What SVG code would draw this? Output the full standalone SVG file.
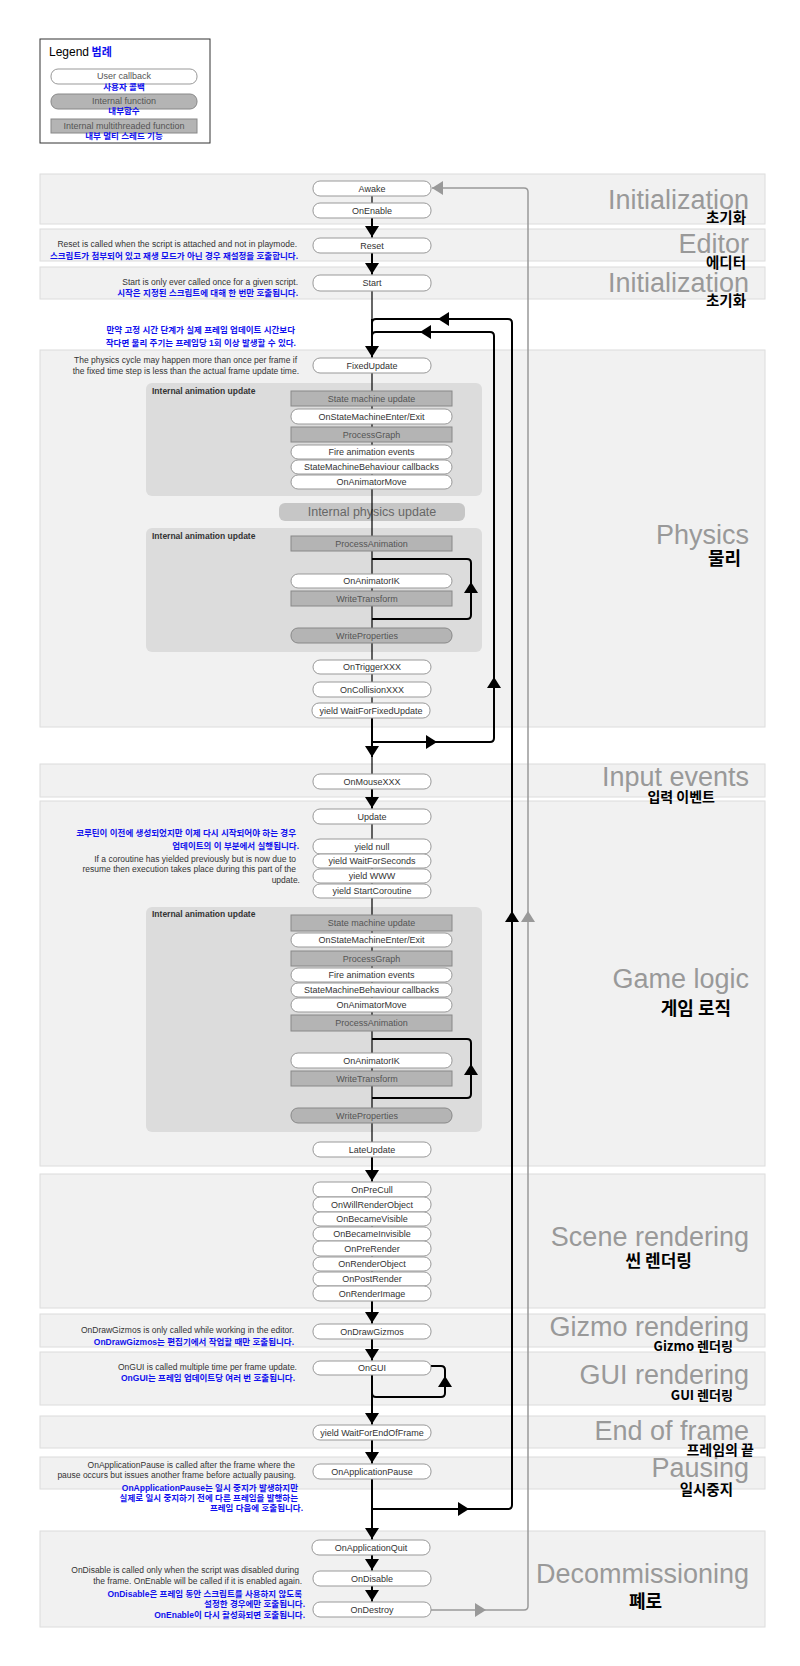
<svg xmlns="http://www.w3.org/2000/svg" xmlns:xlink="http://www.w3.org/1999/xlink" width="800" height="1666" viewBox="0 0 800 1666">
<style>
text{font-family:"Liberation Sans",Arial,sans-serif}
.band{fill:#f1f1f1;stroke:#dcdcdc;stroke-width:1}
.panel{fill:#dcdcdc}
.cb{fill:#fff;stroke:#999;stroke-width:1}
.fn{fill:#b4b4b4;stroke:#888;stroke-width:1}
.mt{fill:#b4b4b4;stroke:#888;stroke-width:1}
.nt{font-size:9px;fill:#333;text-anchor:middle}
.gt{font-size:9px;fill:#555;text-anchor:middle}
.pt{font-size:8.5px;font-weight:bold;fill:#333}
.big{font-size:27px;fill:#999;text-anchor:end}
.ko{font-family:"Noto Sans CJK KR",sans-serif;font-weight:bold;fill:#000}
.en{font-size:8.5px;fill:#333;text-anchor:end}
.bl{font-family:"Liberation Sans","Noto Sans CJK KR",sans-serif;font-size:8.5px;font-weight:bold;fill:#1010ee;text-anchor:end}
.ln{fill:none;stroke:#000;stroke-width:1.2}
.lp{fill:none;stroke:#000;stroke-width:2}
.lg{fill:none;stroke:#999;stroke-width:1.5}
</style>
<defs>
<path id="ar" d="M0,0 L-11,-7 L-11,7 Z"/>
<marker id="mk" markerUnits="userSpaceOnUse" markerWidth="14" markerHeight="14" refX="11" refY="7" orient="auto"><path d="M0,0 L11,7 L0,14 Z" fill="#000"/></marker>
<marker id="mg" markerUnits="userSpaceOnUse" markerWidth="14" markerHeight="14" refX="11" refY="7" orient="auto"><path d="M0,0 L11,7 L0,14 Z" fill="#999"/></marker>
</defs>
<rect width="800" height="1666" fill="#fff"/>

<g id="legend">
<rect x="40" y="39" width="170" height="104" fill="#fff" stroke="#333" stroke-width="1"/>
<text x="49" y="56" font-size="12" fill="#000">Legend<tspan class="ko" fill="#1010ee" font-size="11" style="fill:#1010ee"> 범례</tspan></text>
<rect class="cb" x="51" y="69" width="146" height="15" rx="7"/>
<text class="nt" x="124" y="79" style="fill:#555">User callback</text>
<text class="bl" x="124" y="90" text-anchor="middle" style="text-anchor:middle">사용자 콜백</text>
<rect class="fn" x="51" y="94" width="146" height="15" rx="7"/>
<text class="gt" x="124" y="104">Internal function</text>
<text class="bl" x="124" y="114" style="text-anchor:middle">내부함수</text>
<rect class="mt" x="51" y="119" width="146" height="14"/>
<text class="gt" x="124" y="129">Internal multithreaded function</text>
<text class="bl" x="124" y="139" style="text-anchor:middle">내부 멀티 스레드 기능</text>
</g>

<g id="bands">
<rect class="band" x="40" y="174" width="725" height="50"/>
<rect class="band" x="40" y="229" width="725" height="32"/>
<rect class="band" x="40" y="267" width="725" height="32"/>
<rect class="band" x="40" y="350" width="725" height="377"/>
<rect class="band" x="40" y="764" width="725" height="33"/>
<rect class="band" x="40" y="801" width="725" height="365"/>
<rect class="band" x="40" y="1174" width="725" height="134"/>
<rect class="band" x="40" y="1314" width="725" height="33"/>
<rect class="band" x="40" y="1352" width="725" height="53"/>
<rect class="band" x="40" y="1416" width="725" height="32"/>
<rect class="band" x="40" y="1457" width="725" height="32"/>
<rect class="band" x="40" y="1531" width="725" height="96"/>
<rect class="panel" x="146" y="383" width="336" height="113" rx="6"/>
<rect x="279" y="503" width="186" height="18" rx="6" fill="#c6c6c6"/>
<rect class="panel" x="146" y="528" width="336" height="124" rx="6"/>
<rect class="panel" x="146" y="907" width="336" height="225" rx="6"/>
<text class="pt" x="152" y="394">Internal animation update</text>
<text class="pt" x="152" y="539">Internal animation update</text>
<text class="pt" x="152" y="917">Internal animation update</text>
<text x="372" y="516" font-size="12.5" fill="#666" text-anchor="middle">Internal physics update</text>
</g>

<g id="titles">
<text class="big" x="749" y="209">Initialization</text><text class="ko" x="746" y="223" font-size="14.5" text-anchor="end">초기화</text>
<text class="big" x="749" y="253">Editor</text><text class="ko" x="746" y="268" font-size="14.5" text-anchor="end">에디터</text>
<text class="big" x="749" y="292">Initialization</text><text class="ko" x="746" y="306" font-size="14.5" text-anchor="end">초기화</text>
<text class="big" x="749" y="544">Physics</text><text class="ko" x="741" y="565" font-size="18" text-anchor="end">물리</text>
<text class="big" x="749" y="786">Input events</text><text class="ko" x="715" y="802" font-size="14" text-anchor="end">입력 이벤트</text>
<text class="big" x="749" y="988">Game logic</text><text class="ko" x="731" y="1015" font-size="18" text-anchor="end">게임 로직</text>
<text class="big" x="749" y="1246">Scene rendering</text><text class="ko" x="692" y="1267" font-size="17" text-anchor="end">씬 렌더링</text>
<text class="big" x="749" y="1336">Gizmo rendering</text><text class="ko" x="733" y="1351" font-size="13" text-anchor="end">Gizmo 렌더링</text>
<text class="big" x="749" y="1384">GUI rendering</text><text class="ko" x="733" y="1400" font-size="13" text-anchor="end">GUI 렌더링</text>
<text class="big" x="749" y="1440">End of frame</text><text class="ko" x="754" y="1455" font-size="14" text-anchor="end">프레임의 끝</text>
<text class="big" x="749" y="1477">Pausing</text><text class="ko" x="733" y="1495" font-size="14.5" text-anchor="end">일시중지</text>
<text class="big" x="749" y="1583">Decommissioning</text><text class="ko" x="662" y="1608" font-size="18" text-anchor="end">폐로</text>
</g>

<g id="notes">
<text class="en" x="297" y="247">Reset is called when the script is attached and not in playmode.</text>
<text class="bl" x="298" y="259">스크립트가 첨부되어 있고 재생 모드가 아닌 경우 재설정을 호출합니다.</text>
<text class="en" x="298" y="285">Start is only ever called once for a given script.</text>
<text class="bl" x="298" y="296">시작은 지정된 스크립트에 대해 한 번만 호출됩니다.</text>
<text class="bl" x="295" y="333">만약 고정 시간 단계가 실제 프레임 업데이트 시간보다</text>
<text class="bl" x="296" y="346">작다면 물리 주기는 프레임당 1회 이상 발생할 수 있다.</text>
<text class="en" x="297" y="363">The physics cycle may happen more than once per frame if</text>
<text class="en" x="299" y="374">the fixed time step is less than the actual frame update time.</text>
<text class="bl" x="296" y="836">코루틴이 이전에 생성되었지만 이제 다시 시작되어야 하는 경우</text>
<text class="bl" x="299" y="849">업데이트의 이 부분에서 실행됩니다.</text>
<text class="en" x="296" y="862">If a coroutine has yielded previously but is now due to</text>
<text class="en" x="296" y="872">resume then execution takes place during this part of the</text>
<text class="en" x="300" y="883">update.</text>
<text class="en" x="294" y="1333">OnDrawGizmos is only called while working in the editor.</text>
<text class="bl" x="294" y="1345">OnDrawGizmos는 편집기에서 작업할 때만 호출됩니다.</text>
<text class="en" x="297" y="1370">OnGUI is called multiple time per frame update.</text>
<text class="bl" x="295" y="1381">OnGUI는 프레임 업데이트당 여러 번 호출됩니다.</text>
<text class="en" x="295" y="1468">OnApplicationPause is called after the frame where the</text>
<text class="en" x="296" y="1478">pause occurs but issues another frame before actually pausing.</text>
<text class="bl" x="298" y="1491">OnApplicationPause는 일시 중지가 발생하지만</text>
<text class="bl" x="298" y="1501">실제로 일시 중지하기 전에 다른 프레임을 발행하는</text>
<text class="bl" x="303" y="1511">프레임 다음에 호출됩니다.</text>
<text class="en" x="299" y="1573">OnDisable is called only when the script was disabled during</text>
<text class="en" x="302" y="1584">the frame. OnEnable will be called if it is enabled again.</text>
<text class="bl" x="302" y="1597">OnDisable은 프레임 동안 스크립트를 사용하지 않도록</text>
<text class="bl" x="305" y="1607">설정한 경우에만 호출됩니다.</text>
<text class="bl" x="305" y="1618">OnEnable이 다시 활성화되면 호출됩니다.</text>
</g>

<g id="connectors">
<line class="ln" x1="372" y1="196" x2="372" y2="1602"/>
<path class="lp" d="M372,218 V237" marker-end="url(#mk)"/>
<path class="lp" d="M372,253 V274" marker-end="url(#mk)"/>
<path class="lp" d="M372,319 V357" marker-end="url(#mk)"/>
<path class="lp" d="M372,718 V757" marker-end="url(#mk)"/>
<path class="lp" d="M372,789 V808" marker-end="url(#mk)"/>
<path class="lp" d="M372,1157 V1181" marker-end="url(#mk)"/>
<path class="lp" d="M372,1301 V1323" marker-end="url(#mk)"/>
<path class="lp" d="M372,1339 V1360" marker-end="url(#mk)"/>
<path class="lp" d="M372,1375 V1424" marker-end="url(#mk)"/>
<path class="lp" d="M372,1440 V1463" marker-end="url(#mk)"/>
<path class="lp" d="M372,1479 V1539" marker-end="url(#mk)"/>
<path class="lp" d="M372,1555 V1570" marker-end="url(#mk)"/>
<path class="lp" d="M372,1586 V1601" marker-end="url(#mk)"/>
<path class="lp" d="M372,1509 H508 Q512,1509 512,1505 V323 Q512,319 508,319 H376 Q372,319 372,323"/>
<path class="lp" d="M372,742 H490 Q494,742 494,738 V336 Q494,332 490,332 H376 Q372,332 372,336"/>
<path class="lp" d="M372,559 H467 Q471,559 471,563 V615 Q471,619 467,619 H372"/>
<path class="lp" d="M372,1039 H467 Q471,1039 471,1043 V1094 Q471,1098 467,1098 H372"/>
<path class="lp" d="M431,1366 H441 Q445,1366 445,1370 V1393 Q445,1397 441,1397 H376 Q372,1397 372,1393"/>
<path class="lg" d="M431,1610 H524 Q528,1610 528,1606 V192 Q528,188 524,188 H432" marker-end="url(#mg)"/>
<g fill="#000">
<use xlink:href="#ar" href="#ar" transform="translate(469,1509)"/>
<use xlink:href="#ar" href="#ar" transform="translate(512,911) rotate(-90)"/>
<use xlink:href="#ar" href="#ar" transform="translate(438,319) rotate(180)"/>
<use xlink:href="#ar" href="#ar" transform="translate(437,742)"/>
<use xlink:href="#ar" href="#ar" transform="translate(494,677) rotate(-90)"/>
<use xlink:href="#ar" href="#ar" transform="translate(420,332) rotate(180)"/>
<use xlink:href="#ar" href="#ar" transform="translate(471,582) rotate(-90)"/>
<use xlink:href="#ar" href="#ar" transform="translate(471,1064) rotate(-90)"/>
<use xlink:href="#ar" href="#ar" transform="translate(445,1376) rotate(-90)"/>
</g>
<g fill="#999">
<use xlink:href="#ar" href="#ar" transform="translate(486,1610)"/>
<use xlink:href="#ar" href="#ar" transform="translate(528,911) rotate(-90)"/>
</g>
</g>

<g id="nodes">
<g id="n-awake"><rect class="cb" x="313" y="181" width="118" height="15" rx="7"/><text class="nt" x="372" y="191.5">Awake</text></g>
<g id="n-onenable"><rect class="cb" x="313" y="203" width="118" height="15" rx="7"/><text class="nt" x="372" y="213.5">OnEnable</text></g>
<g id="n-reset"><rect class="cb" x="313" y="238" width="118" height="15" rx="7"/><text class="nt" x="372" y="248.5">Reset</text></g>
<g id="n-start"><rect class="cb" x="313" y="275" width="118" height="16" rx="7"/><text class="nt" x="372" y="286">Start</text></g>
<g id="n-fixedupdate"><rect class="cb" x="313" y="358" width="118" height="15" rx="7"/><text class="nt" x="372" y="368.5">FixedUpdate</text></g>
<g id="n-p-smu"><rect class="mt" x="291" y="391" width="161" height="15"/><text class="gt" x="371.5" y="401.5">State machine update</text></g>
<g id="n-p-smee"><rect class="cb" x="291" y="409" width="161" height="15" rx="7"/><text class="nt" x="371.5" y="419.5">OnStateMachineEnter/Exit</text></g>
<g id="n-p-pg"><rect class="mt" x="291" y="427" width="161" height="15"/><text class="gt" x="371.5" y="437.5">ProcessGraph</text></g>
<g id="n-p-fae"><rect class="cb" x="291" y="445" width="161" height="14" rx="7"/><text class="nt" x="371.5" y="455">Fire animation events</text></g>
<g id="n-p-smb"><rect class="cb" x="291" y="460" width="161" height="14" rx="7"/><text class="nt" x="371.5" y="470">StateMachineBehaviour callbacks</text></g>
<g id="n-p-oam"><rect class="cb" x="291" y="475" width="161" height="14" rx="7"/><text class="nt" x="371.5" y="485">OnAnimatorMove</text></g>
<g id="n-p-pa"><rect class="mt" x="291" y="536" width="161" height="15"/><text class="gt" x="371.5" y="546.5">ProcessAnimation</text></g>
<g id="n-p-ik"><rect class="cb" x="291" y="574" width="161" height="14" rx="7"/><text class="nt" x="371.5" y="584">OnAnimatorIK</text></g>
<g id="n-p-wt"><rect class="mt" x="291" y="591" width="161" height="15"/><text class="gt" x="367" y="601.5">WriteTransform</text></g>
<g id="n-p-wp"><rect class="fn" x="291" y="628" width="161" height="15" rx="7"/><text class="gt" x="367" y="638.5">WriteProperties</text></g>
<g id="n-trigger"><rect class="cb" x="313" y="660" width="118" height="14" rx="7"/><text class="nt" x="372" y="670">OnTriggerXXX</text></g>
<g id="n-collision"><rect class="cb" x="313" y="682" width="118" height="15" rx="7"/><text class="nt" x="372" y="692.5">OnCollisionXXX</text></g>
<g id="n-wffu"><rect class="cb" x="312" y="703" width="118" height="15" rx="7"/><text class="nt" x="371" y="713.5">yield WaitForFixedUpdate</text></g>
<g id="n-mouse"><rect class="cb" x="313" y="774" width="118" height="15" rx="7"/><text class="nt" x="372" y="784.5">OnMouseXXX</text></g>
<g id="n-update"><rect class="cb" x="313" y="809" width="118" height="15" rx="7"/><text class="nt" x="372" y="819.5">Update</text></g>
<g id="n-ynull"><rect class="cb" x="313" y="839" width="118" height="15" rx="7"/><text class="nt" x="372" y="849.5">yield null</text></g>
<g id="n-ywfs"><rect class="cb" x="313" y="854" width="118" height="14" rx="7"/><text class="nt" x="372" y="864">yield WaitForSeconds</text></g>
<g id="n-ywww"><rect class="cb" x="313" y="869" width="118" height="14" rx="7"/><text class="nt" x="372" y="879">yield WWW</text></g>
<g id="n-ysc"><rect class="cb" x="313" y="884" width="118" height="14" rx="7"/><text class="nt" x="372" y="894">yield StartCoroutine</text></g>
<g id="n-g-smu"><rect class="mt" x="291" y="915" width="161" height="16"/><text class="gt" x="371.5" y="926">State machine update</text></g>
<g id="n-g-smee"><rect class="cb" x="291" y="933" width="161" height="14" rx="7"/><text class="nt" x="371.5" y="943">OnStateMachineEnter/Exit</text></g>
<g id="n-g-pg"><rect class="mt" x="291" y="951" width="161" height="15"/><text class="gt" x="371.5" y="961.5">ProcessGraph</text></g>
<g id="n-g-fae"><rect class="cb" x="291" y="968" width="161" height="14" rx="7"/><text class="nt" x="371.5" y="978">Fire animation events</text></g>
<g id="n-g-smb"><rect class="cb" x="291" y="983" width="161" height="14" rx="7"/><text class="nt" x="371.5" y="993">StateMachineBehaviour callbacks</text></g>
<g id="n-g-oam"><rect class="cb" x="291" y="998" width="161" height="14" rx="7"/><text class="nt" x="371.5" y="1008">OnAnimatorMove</text></g>
<g id="n-g-pa"><rect class="mt" x="291" y="1015" width="161" height="16"/><text class="gt" x="371.5" y="1026">ProcessAnimation</text></g>
<g id="n-g-ik"><rect class="cb" x="291" y="1053" width="161" height="15" rx="7"/><text class="nt" x="371.5" y="1063.5">OnAnimatorIK</text></g>
<g id="n-g-wt"><rect class="mt" x="291" y="1071" width="161" height="15"/><text class="gt" x="367" y="1081.5">WriteTransform</text></g>
<g id="n-g-wp"><rect class="fn" x="291" y="1108" width="161" height="15" rx="7"/><text class="gt" x="367" y="1118.5">WriteProperties</text></g>
<g id="n-lateupdate"><rect class="cb" x="313" y="1142" width="118" height="15" rx="7"/><text class="nt" x="372" y="1152.5">LateUpdate</text></g>
<g id="n-precull"><rect class="cb" x="313" y="1182" width="118" height="15" rx="7"/><text class="nt" x="372" y="1192.5">OnPreCull</text></g>
<g id="n-wro"><rect class="cb" x="313" y="1197" width="118" height="15" rx="7"/><text class="nt" x="372" y="1207.5">OnWillRenderObject</text></g>
<g id="n-bv"><rect class="cb" x="313" y="1212" width="118" height="14" rx="7"/><text class="nt" x="372" y="1222">OnBecameVisible</text></g>
<g id="n-bi"><rect class="cb" x="313" y="1227" width="118" height="14" rx="7"/><text class="nt" x="372" y="1237">OnBecameInvisible</text></g>
<g id="n-prer"><rect class="cb" x="313" y="1241" width="118" height="15" rx="7"/><text class="nt" x="372" y="1251.5">OnPreRender</text></g>
<g id="n-ro"><rect class="cb" x="313" y="1257" width="118" height="14" rx="7"/><text class="nt" x="372" y="1267">OnRenderObject</text></g>
<g id="n-postr"><rect class="cb" x="313" y="1272" width="118" height="14" rx="7"/><text class="nt" x="372" y="1282">OnPostRender</text></g>
<g id="n-ri"><rect class="cb" x="313" y="1286" width="118" height="15" rx="7"/><text class="nt" x="372" y="1296.5">OnRenderImage</text></g>
<g id="n-gizmos"><rect class="cb" x="313" y="1324" width="118" height="15" rx="7"/><text class="nt" x="372" y="1334.5">OnDrawGizmos</text></g>
<g id="n-gui"><rect class="cb" x="313" y="1361" width="118" height="14" rx="7"/><text class="nt" x="372" y="1371">OnGUI</text></g>
<g id="n-weof"><rect class="cb" x="313" y="1425" width="118" height="15" rx="7"/><text class="nt" x="372" y="1435.5">yield WaitForEndOfFrame</text></g>
<g id="n-pause"><rect class="cb" x="313" y="1464" width="118" height="15" rx="7"/><text class="nt" x="372" y="1474.5">OnApplicationPause</text></g>
<g id="n-quit"><rect class="cb" x="312" y="1540" width="118" height="15" rx="7"/><text class="nt" x="371" y="1550.5">OnApplicationQuit</text></g>
<g id="n-disable"><rect class="cb" x="313" y="1571" width="118" height="15" rx="7"/><text class="nt" x="372" y="1581.5">OnDisable</text></g>
<g id="n-destroy"><rect class="cb" x="313" y="1602" width="118" height="15" rx="7"/><text class="nt" x="372" y="1612.5">OnDestroy</text></g>
</g>
</svg>
